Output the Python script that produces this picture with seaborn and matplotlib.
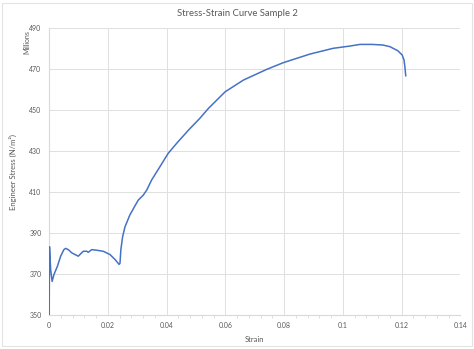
import matplotlib
matplotlib.use("Agg")
import matplotlib.pyplot as plt
from matplotlib.patches import Rectangle
from matplotlib.ticker import MultipleLocator, FuncFormatter
import seaborn as sns
import pandas as pd

# Measured engineering strain and engineering stress (millions of N/m^2)
strain = [0.0000, 0.0001, 0.0005, 0.0007, 0.0010, 0.0016, 0.0028, 0.0039,
          0.0050, 0.0056, 0.0065, 0.0077, 0.0099, 0.0116, 0.0128, 0.0133,
          0.0145, 0.0162, 0.0184, 0.0207, 0.0224, 0.0238, 0.0241, 0.0244,
          0.0250, 0.0258, 0.0275, 0.0303, 0.0320, 0.0332, 0.0349, 0.0377,
          0.0405, 0.0434, 0.0474, 0.0513, 0.0542, 0.0599, 0.0661, 0.0740,
          0.0797, 0.0888, 0.0967, 0.1024, 0.1058, 0.1100, 0.1136, 0.1160,
          0.1187, 0.1202, 0.1208, 0.1211, 0.1214]
stress = [350.0, 383.4, 372.3, 369.8, 366.5, 369.8, 373.9, 378.8,
          382.0, 382.6, 382.0, 380.4, 378.8, 381.2, 381.2, 380.7,
          382.0, 381.7, 381.2, 379.6, 377.2, 374.8, 375.3, 382.0,
          388.3, 393.1, 399.0, 406.1, 408.5, 411.0, 416.0, 422.4,
          428.9, 433.8, 440.2, 446.0, 450.8, 458.9, 464.6, 469.8,
          473.1, 477.3, 480.1, 481.2, 482.0, 482.0, 481.7, 480.9,
          478.9, 476.8, 474.4, 471.1, 466.6]

y_ticks = [350, 370, 390, 410, 430, 450, 470, 490]
x_ticks = [0, 0.02, 0.04, 0.06, 0.08, 0.1, 0.12, 0.14]

title = "Stress-Strain Curve Sample 2"
x_label = "Strain"
y_label = "Engineer Stress (N/m²)"
unit_label = "Millions"

df = pd.DataFrame({"Strain": strain, "Stress": stress})

sns.set_theme(style="white")
plt.rcParams["font.family"] = ["Lato", "DejaVu Sans"]

text_gray = "#595959"
grid_gray = "#e0e0e0"

fig = plt.figure(figsize=(4.74, 3.49), dpi=100)
ax = fig.add_axes([0.1038, 0.0966, 0.8675, 0.8232])

sns.lineplot(data=df, x="Strain", y="Stress", sort=False, estimator=None,
             color="#4472C4", linewidth=1.1, ax=ax, zorder=3)

ax.set_xlim(0, 0.14)
ax.set_ylim(350, 490)
ax.set_xticks(x_ticks)
ax.set_yticks(y_ticks)
ax.xaxis.set_minor_locator(MultipleLocator(0.004))
ax.xaxis.set_major_formatter(FuncFormatter(lambda v, p: "0" if abs(v) < 1e-9 else f"{v:g}"))

ax.grid(True, which="major", color=grid_gray, linewidth=0.7)
for side in ("top", "right"):
    ax.spines[side].set_visible(False)
for side in ("left", "bottom"):
    ax.spines[side].set_color("#d9d9d9")
    ax.spines[side].set_linewidth(0.8)

ax.tick_params(axis="y", which="major", labelsize=5, labelcolor=text_gray,
               length=0, pad=5.5)
ax.tick_params(axis="x", which="major", labelsize=5, labelcolor=text_gray,
               length=0, pad=5)
ax.tick_params(axis="x", which="minor", bottom=True, length=2.5, width=0.6,
               color="#d9d9d9", direction="out")

ax.set_xlabel(x_label, fontsize=5.5, color=text_gray, labelpad=5)
ax.set_ylabel(y_label, fontsize=5.5, color=text_gray, labelpad=9)
fig.suptitle(title, x=0.5, y=0.96, fontsize=6.8, color=text_gray, va="center")

fig.text(0.057, 0.88, unit_label, rotation=90, fontsize=5, color=text_gray,
         ha="center", va="center")

fig.patches.append(Rectangle((0.005, 0.01), 0.99, 0.98, transform=fig.transFigure,
                             fill=False, edgecolor="#e3e3e3", linewidth=0.8))

fig.savefig("out.png", dpi=100, facecolor="white")
